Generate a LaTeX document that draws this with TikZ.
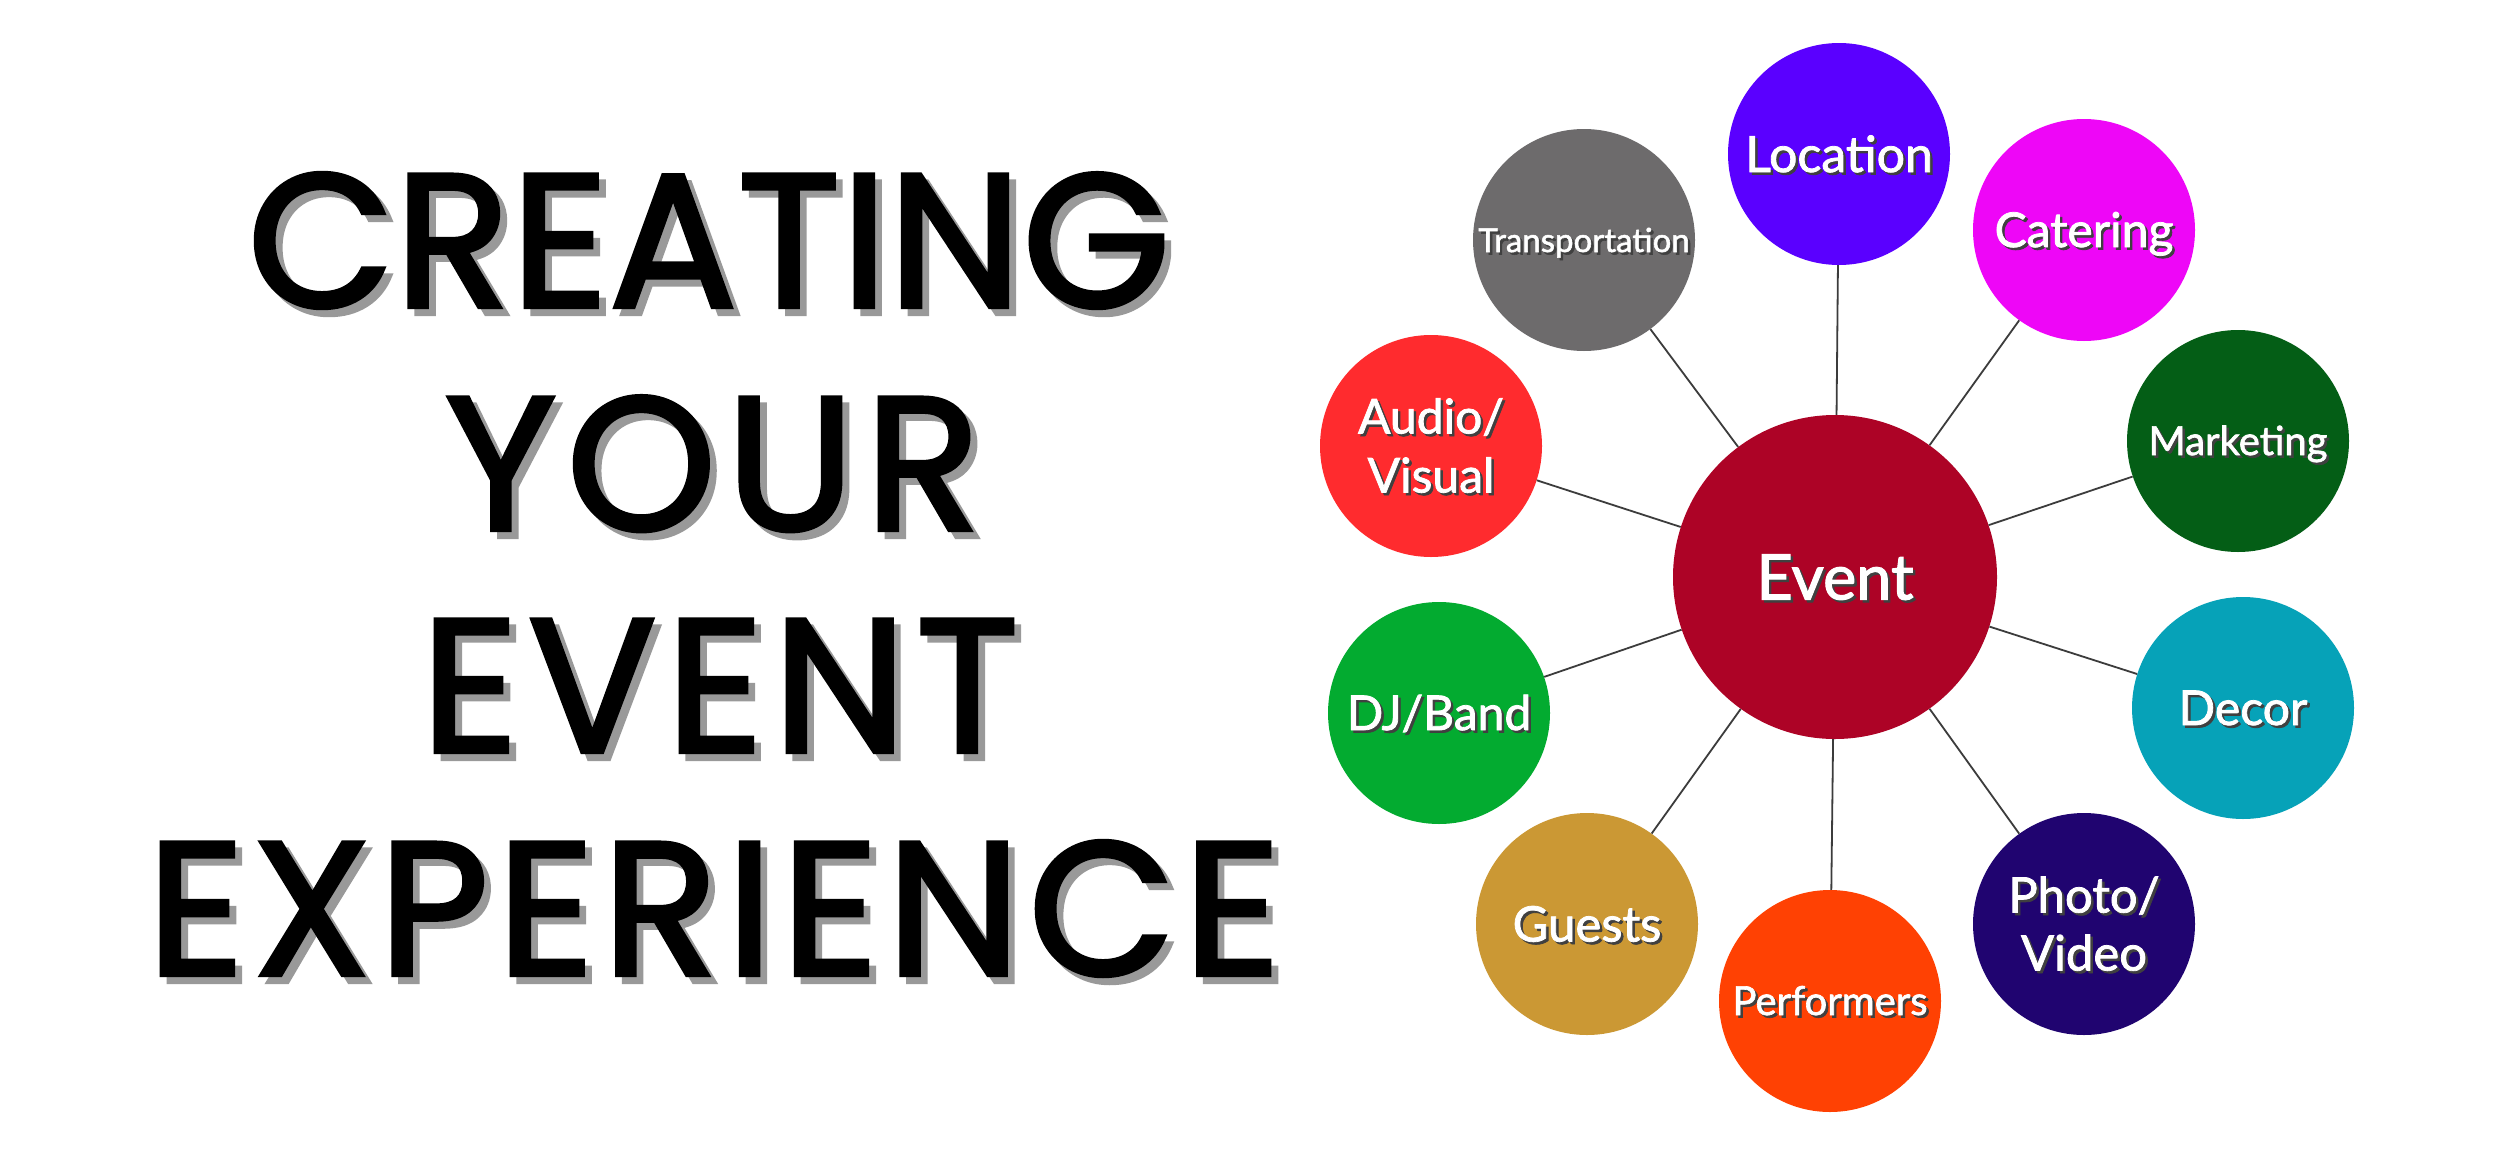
\documentclass[tikz,border=0pt]{standalone}
\usepackage{fontspec}
\setmainfont{Lato}
\newfontfamily\titlefont{Poppins}[FakeBold=2.2]
\newfontfamily\lblfamily{Lato}[FakeBold=1.6]
\definecolor{cEvent}{RGB}{173,3,38}
\definecolor{cLoc}{RGB}{90,0,255}
\definecolor{cCat}{RGB}{238,6,247}
\definecolor{cMkt}{RGB}{4,94,22}
\definecolor{cDec}{RGB}{6,162,184}
\definecolor{cPho}{RGB}{32,4,112}
\definecolor{cPer}{RGB}{255,65,3}
\definecolor{cGue}{RGB}{203,152,52}
\definecolor{cDJ}{RGB}{3,171,48}
\definecolor{cAV}{RGB}{255,43,46}
\definecolor{cTra}{RGB}{109,107,108}
\definecolor{cLine}{RGB}{60,60,60}
\newcommand\shadowtext[3]{\makebox[0pt][l]{\hspace*{#2}\raisebox{-#2}{\textcolor{#1}{#3}}}#3}
\newcommand\ttl[1]{\shadowtext{black!40}{7pt}{#1}}
\newcommand\lbl[1]{\shadowtext{black!75}{2.5pt}{#1}}
\newcommand\lsize[2]{\lblfamily\fontsize{#1}{#2}\selectfont}
\tikzset{
  bub/.style={circle, inner sep=0pt, minimum size=222pt, fill=#1, text=white, align=center, text depth=0pt},
  titleline/.style={inner sep=0pt, anchor=base, font=\titlefont\fontsize{190}{222}\selectfont\addfontfeatures{LetterSpace=#1}},
  conn/.style={draw=cLine, line width=1.8pt}
}
\begin{document}
\begin{tikzpicture}[x=1pt,y=-1pt]
\fill[white] (0,0) rectangle (2500,1154);
\useasboundingbox (0,0) rectangle (2500,1154);
% title
\node[titleline=0.3] (t1) at (709,307) {\ttl{CREATING}};
\node[titleline=5.5] (t2) at (713,530) {\ttl{YOUR}};
\node[titleline=5] (t3) at (720,752) {\ttl{EVENT}};
\node[titleline=4.3] (t4) at (714,975) {\ttl{EXPERIENCE}};
% hub
\node[bub=cEvent, minimum size=324pt, text height=45pt, font=\lsize{63}{70}] (ev) at (1835,577) {\lbl{Event}};
% spokes
\node[bub=cLoc, text height=36pt, font=\lsize{50}{60}] (loc) at (1839,154) {\lbl{Location}};
\node[bub=cCat, text height=34pt, font=\lsize{48}{58}] (cat) at (2084,230) {\lbl{Catering}};
\node[bub=cMkt, text height=28pt, font=\lsize{40}{50}] (mkt) at (2238,441) {\lbl{Marketing}};
\node[bub=cDec, text height=34pt, font=\lsize{48}{58}] (dec) at (2243,708) {\lbl{Decor}};
\node[bub=cPho, text height=93pt, font=\lsize{49}{58}] (pho) at (2084,924) {\lbl{Photo/}\\\lbl{Video}};
\node[bub=cPer, text height=28pt, font=\lsize{40}{50}] (per) at (1830,1001) {\lbl{Performers}};
\node[bub=cGue, text height=35pt, font=\lsize{49}{58}] (gue) at (1587,924) {\lbl{Guests}};
\node[bub=cDJ, text height=34pt, font=\lsize{48}{58}] (dj) at (1439,713) {\lbl{DJ/Band}};
\node[bub=cAV, text height=93pt, font=\lsize{48}{59}] (av) at (1431,446) {\lbl{Audio/}\\\lbl{Visual}};
\node[bub=cTra, text height=24pt, font=\lsize{33}{40}] (tra) at (1584,240) {\lbl{Transportation}};
\foreach \n in {loc,cat,mkt,dec,pho,per,gue,dj,av,tra}
  \draw[conn] (ev) -- (\n);
\end{tikzpicture}
\end{document}
